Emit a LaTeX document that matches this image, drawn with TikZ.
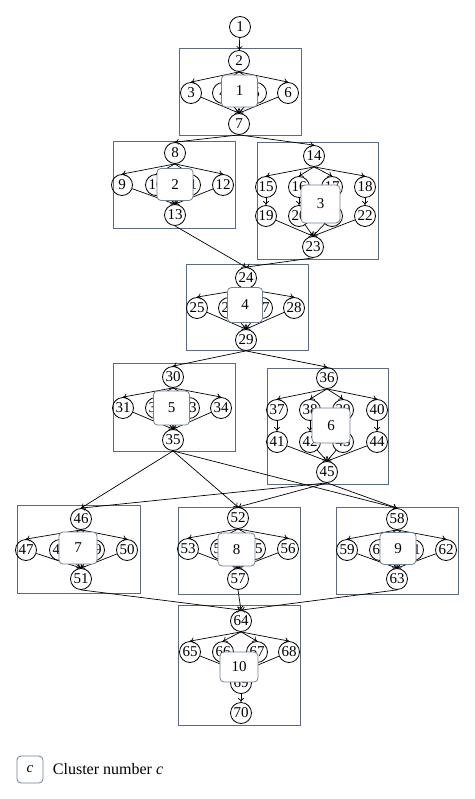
\documentclass[tikz,border=0pt]{standalone}
\usepackage{fontspec}
\setmainfont{Liberation Serif}
\usetikzlibrary{arrows.meta, positioning}
\definecolor{boxline}{RGB}{92, 106, 128}
\definecolor{tagline}{RGB}{112, 128, 150}

\begin{document}
\begin{tikzpicture}[
    x=1pt, y=-1pt,
    vtx/.style={circle, draw, line width=0.8pt, minimum size=21pt, inner sep=0pt, font=\fontsize{15}{15}\selectfont},
    cluster/.style={rectangle, draw=boxline, line width=0.9pt, minimum width=122pt, minimum height=87pt},
    tag/.style={rectangle, draw=tagline, rounded corners=4pt, fill=white, line width=0.8pt, minimum width=36pt, minimum height=32pt, font=\fontsize{15}{15}\selectfont},
    arrow/.style={-{To[length=4pt, width=6pt]}, line width=0.7pt}
]
\useasboundingbox (0,0) rectangle (474,799);

% Cluster frames
\node[cluster] (box1) at (240.5,91.5) {};
\node[cluster] (box2) at (174,184.5) {};
\node[cluster, minimum width=121pt, minimum height=117pt] (box3) at (317.5,200.5) {};
\node[cluster, minimum height=86pt] (box4) at (247,307) {};
\node[cluster, minimum height=88pt] (box5) at (174,407) {};
\node[cluster, minimum width=121pt, minimum height=116pt] (box6) at (327.5,426) {};
\node[cluster, minimum width=123pt, minimum height=88pt] (box7) at (78.5,549) {};
\node[cluster] (box8) at (239,550.5) {};
\node[cluster] (box9) at (397,550.5) {};
\node[cluster, minimum height=120pt] (box10) at (239,665) {};

% Cluster 1
\node[vtx] (n1) at (240,27) {1};
\node[vtx] (n2) at (239,61) {2};
\foreach \n/\x in {3/191, 4/223, 5/256, 6/288}
    \node[vtx] (n\n) at (\x,93) {\n};
\node[vtx] (n7) at (239,124) {7};

% Cluster 2
\node[vtx] (n8) at (175,153) {8};
\foreach \n/\x in {9/122, 10/156, 11/190, 12/223}
    \node[vtx] (n\n) at (\x,185) {\n};
\node[vtx] (n13) at (175,215) {13};

% Cluster 3
\node[vtx] (n14) at (314,156) {14};
\foreach \n/\x in {15/266, 16/299, 17/332, 18/365}
    \node[vtx] (n\n) at (\x,187) {\n};
\foreach \n/\x in {19/266, 20/299, 21/332, 22/365}
    \node[vtx] (n\n) at (\x,216) {\n};
\node[vtx] (n23) at (313,247) {23};

% Cluster 4
\node[vtx] (n24) at (246,278) {24};
\foreach \n/\x in {25/197, 26/229, 27/262, 28/294}
    \node[vtx] (n\n) at (\x,308) {\n};
\node[vtx] (n29) at (246,340) {29};

% Cluster 5
\node[vtx] (n30) at (173,377) {30};
\foreach \n/\x in {31/123, 32/156, 33/189, 34/221}
    \node[vtx] (n\n) at (\x,408) {\n};
\node[vtx] (n35) at (173,440) {35};

% Cluster 6
\node[vtx] (n36) at (327,378) {36};
\foreach \n/\x in {37/277, 38/310, 39/343, 40/377}
    \node[vtx] (n\n) at (\x,410) {\n};
\foreach \n/\x in {41/277, 42/310, 43/343, 44/377}
    \node[vtx] (n\n) at (\x,442) {\n};
\node[vtx] (n45) at (327,472) {45};

% Cluster 7
\node[vtx] (n46) at (81,519) {46};
\foreach \n/\x in {47/26, 48/60, 49/94, 50/127}
    \node[vtx] (n\n) at (\x,550) {\n};
\node[vtx] (n51) at (81,579) {51};

% Cluster 8
\node[vtx] (n52) at (238,518) {52};
\foreach \n/\x in {53/188, 54/221, 55/255, 56/288}
    \node[vtx] (n\n) at (\x,549) {\n};
\node[vtx] (n57) at (238,579) {57};

% Cluster 9
\node[vtx] (n58) at (397,519) {58};
\foreach \n/\x in {59/347, 60/380, 61/413, 62/446}
    \node[vtx] (n\n) at (\x,550) {\n};
\node[vtx] (n63) at (397,579) {63};

% Cluster 10
\node[vtx] (n64) at (241,621) {64};
\foreach \n/\x in {65/190, 66/223, 67/257, 68/289}
    \node[vtx] (n\n) at (\x,652) {\n};
\node[vtx] (n69) at (241,683) {69};
\node[vtx] (n70) at (241,713) {70};

% Edges inside clusters
\foreach \s/\t in {2/3,2/4,2/5,2/6, 8/9,8/10,8/11,8/12, 14/15,14/16,14/17,14/18,
                   24/25,24/26,24/27,24/28, 30/31,30/32,30/33,30/34, 36/37,36/38,36/39,36/40,
                   46/47,46/48,46/49,46/50, 52/53,52/54,52/55,52/56, 58/59,58/60,58/61,58/62,
                   64/65,64/66,64/67,64/68}
    \draw[arrow] (n\s.south) -- (n\t.north);
\foreach \s/\t in {3/7,4/7,5/7,6/7, 9/13,10/13,11/13,12/13, 19/23,20/23,21/23,22/23,
                   25/29,26/29,27/29,28/29, 31/35,32/35,33/35,34/35, 41/45,42/45,43/45,44/45,
                   47/51,48/51,49/51,50/51, 53/57,54/57,55/57,56/57, 59/63,60/63,61/63,62/63,
                   65/69,66/69,67/69,68/69}
    \draw[arrow] (n\s) -- (n\t.north);
\foreach \s/\t in {1/2, 15/19,16/20,17/21,18/22, 37/41,38/42,39/43,40/44, 69/70}
    \draw[arrow] (n\s) -- (n\t);

% Edges between clusters
\foreach \s/\t in {7/8,7/14, 13/24,23/24, 29/30,29/36, 35/46,35/52,35/58,
                   45/46,45/52,45/58, 51/64,57/64,63/64}
    \draw[arrow] (n\s.south) -- (n\t.north);

% Cluster numbers
\node[tag] (tag1) at (239.5,91) {1};
\node[tag] (tag2) at (175,184.5) {2};
\node[tag, minimum width=39pt, minimum height=38pt] (tag3) at (320.5,204) {3};
\node[tag, minimum width=35pt, minimum height=35pt] (tag4) at (245,305) {4};
\node[tag, minimum height=34pt] (tag5) at (171.5,408) {5};
\node[tag, minimum width=38pt, minimum height=35pt] (tag6) at (331,425.5) {6};
\node[tag, minimum width=38pt] (tag7) at (78,548) {7};
\node[tag, minimum width=37pt, minimum height=33pt] (tag8) at (236.5,549.5) {8};
\node[tag] (tag9) at (398,548.5) {9};
\node[tag, minimum width=38pt, minimum height=30pt] (tag10) at (239,667) {10};

% Legend
\node[tag, minimum width=26pt, minimum height=27pt, font=\fontsize{15}{15}\selectfont\itshape] (legend) at (30,769.5) {c};
\node[right=6pt of legend, font=\fontsize{16}{16}\selectfont] (legendtext) {Cluster number \textit{c}};

\end{tikzpicture}
\end{document}
